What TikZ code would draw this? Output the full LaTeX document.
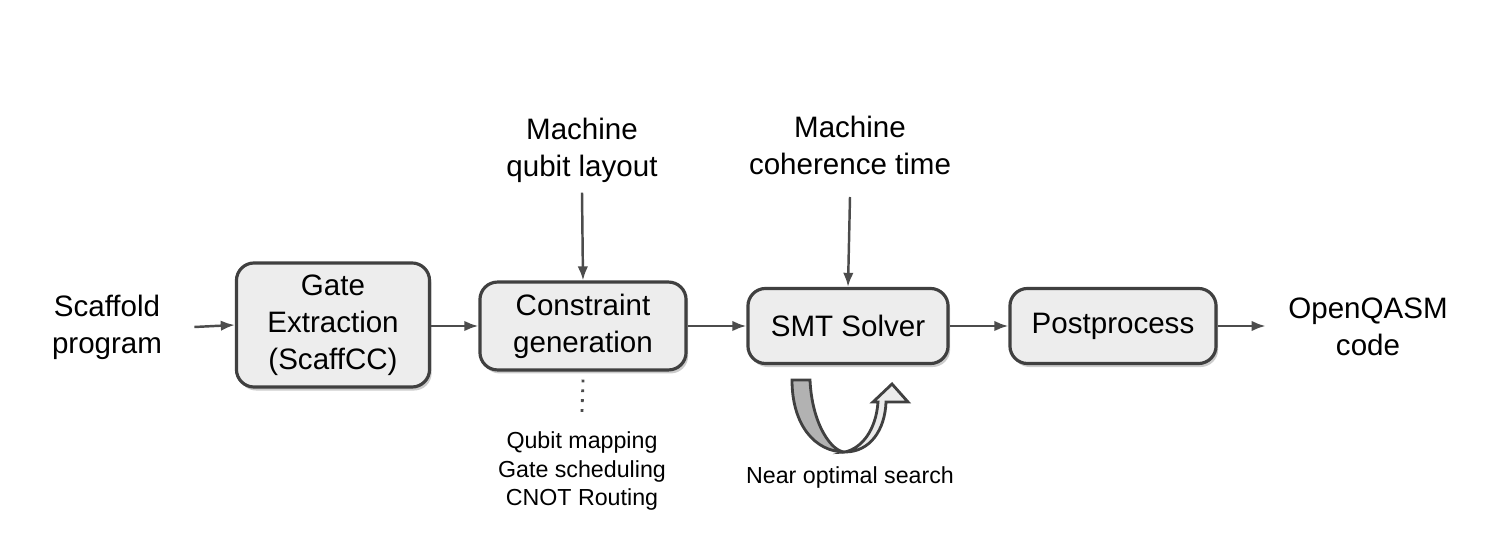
\documentclass[tikz,border=0pt]{standalone}
\usepackage{fontspec}
\setmainfont{Liberation Sans}
\usetikzlibrary{shadows}
\begin{document}
\begin{tikzpicture}[x=0.01cm,y=-0.01cm,
 box/.style={draw=black!75,line width=0.9pt,rounded corners=5pt,fill=black!7,align=center,font=\fontsize{8.4}{10.5}\selectfont,drop shadow={shadow xshift=0.6pt,shadow yshift=-1pt,opacity=0.4}},
 lbl/.style={align=center,font=\fontsize{8.4}{10.5}\selectfont},
 small/.style={align=center,font=\fontsize{6.6}{8.2}\selectfont},
 arr/.style={draw=black!70,line width=0.7pt,-{Latex[length=4pt,width=3pt]}}]
\usetikzlibrary{arrows.meta}
\useasboundingbox (0,0) rectangle (1500,555);
\node[lbl] (in) at (107,327) {Scaffold\\program};
\node[box,minimum width=1.93cm,minimum height=1.14cm] (ge) at (333,325) {Gate\\Extraction\\(ScaffCC)};
\node[box,minimum width=2.06cm,minimum height=0.75cm] (cg) at (583,326) {Constraint\\generation};
\node[box,minimum width=2.0cm,minimum height=0.75cm] (smt) at (848,326) {SMT Solver};
\node[box,minimum width=2.06cm,minimum height=0.75cm] (pp) at (1113,326) {Postprocess};
\node[lbl] (out) at (1368,327) {OpenQASM\\code};
\node[lbl] (mq) at (582,150) {Machine\\qubit layout};
\node[lbl] (mc) at (850,145) {Machine\\coherence time};
\node[small] (sub) at (582,471) {Qubit mapping\\Gate scheduling\\CNOT Routing};
\node[small] (nos) at (850,478) {Near optimal search};
\coordinate (dt) at (582,412);
\draw[arr] (in.east)++(20,0) -- (ge.west);
\draw[arr] (ge.east|-cg) -- (cg.west);
\draw[arr] (cg) -- (smt);
\draw[arr] (smt) -- (pp);
\draw[arr] (pp.east) -- ++(48,0);
\draw[arr] (mq.south)++(0,-2) -- (cg.north);
\draw[arr] (850,197) -- (smt.north);
\draw[black!70,line width=0.8pt,dotted] (cg.south)++(0,8) -- (dt);
\draw[black!75,line width=0.8pt,fill=black!30] (792,380) -- (810,380) .. controls (812,425) and (832,452) .. (845,452) .. controls (815,452) and (792,425) .. (792,380) -- cycle;
\draw[black!75,line width=0.8pt,fill=black!8] (845,452) .. controls (870,452) and (885,430) .. (886,402) -- (908,402) -- (892,384) -- (873,402) -- (878,402) .. controls (876,430) and (862,448) .. (845,452) -- cycle;
\end{tikzpicture}
\end{document}
